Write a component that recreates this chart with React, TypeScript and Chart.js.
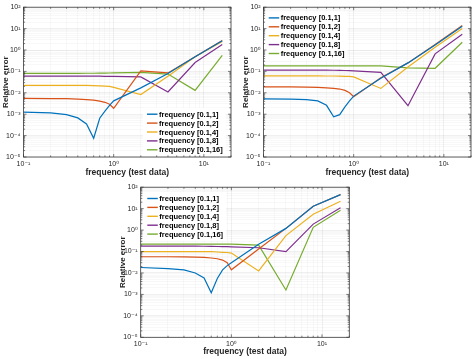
import React, { useEffect, useRef } from 'react';
import { Chart, registerables } from 'chart.js';

Chart.register(...registerables);

// ---------- data ----------
const frequency = [0.1, 0.2, 0.3, 0.4, 0.5, 0.6, 0.7, 0.8, 0.9, 1, 2, 4, 8, 16];
const seriesNames = [
  'frequency [0.1,1]',
  'frequency [0.1,2]',
  'frequency [0.1,4]',
  'frequency [0.1,8]',
  'frequency [0.1,16]',
];
const seriesColors = ['#0072BD', '#D95319', '#EDB120', '#7E2F8E', '#77AC30'];

const xMajorTicks = [0.1, 1, 10];
const yMajorTicks = [1e-5, 1e-4, 1e-3, 1e-2, 1e-1, 1, 10, 100];
const xAxisTitle = 'frequency (test data)';
const yAxisTitle = 'Relative error';

// panel A (top left)
const a_f1 = [1.25e-3, 1.15e-3, 9.5e-4, 6.7e-4, 3.5e-4, 7.5e-5, 6.5e-4, 1.4e-3, 2.6e-3, 4.2e-3, 1.7e-2, 8e-2, 0.48, 2.7];
const a_f2 = [5.5e-3, 5.4e-3, 5.3e-3, 5.1e-3, 4.8e-3, 4.5e-3, 4.1e-3, 3.6e-3, 2.9e-3, 1.9e-3, 0.105, 0.085, 0.48, 2.8];
const a_f4 = [0.022, 0.022, 0.022, 0.022, 0.022, 0.0215, 0.021, 0.0205, 0.02, 0.018, 8.3e-3, 0.06, 0.48, 2.5];
const a_f8 = [0.06, 0.06, 0.06, 0.06, 0.06, 0.06, 0.06, 0.059, 0.059, 0.058, 0.055, 0.011, 0.26, 1.8];
const a_f16 = [0.08, 0.08, 0.081, 0.081, 0.082, 0.082, 0.083, 0.083, 0.084, 0.085, 0.09, 0.075, 0.013, 0.56];

// panel B (top right)
const b_f1 = [5.2e-3, 5.1e-3, 4.8e-3, 4.2e-3, 2.6e-3, 7.5e-4, 9.5e-4, 2.2e-3, 4.2e-3, 7e-3, 0.048, 0.25, 1.7, 13];
const b_f2 = [0.019, 0.019, 0.0185, 0.018, 0.017, 0.016, 0.015, 0.013, 0.01, 6.5e-3, 0.05, 0.25, 1.8, 14];
const b_f4 = [0.062, 0.062, 0.062, 0.062, 0.061, 0.061, 0.06, 0.059, 0.058, 0.055, 0.016, 0.16, 1.35, 10];
const b_f8 = [0.115, 0.115, 0.115, 0.115, 0.114, 0.113, 0.112, 0.11, 0.108, 0.105, 0.09, 2.5e-3, 0.66, 5.5];
const b_f16 = [0.18, 0.18, 0.18, 0.18, 0.18, 0.18, 0.18, 0.18, 0.18, 0.18, 0.18, 0.145, 0.14, 2.3];

// panel C (bottom)
const c_f1 = [0.018, 0.016, 0.014, 0.01, 5.9e-3, 1.2e-3, 5.5e-3, 0.014, 0.022, 0.03, 0.22, 1.2, 13, 45];
const c_f2 = [0.057, 0.057, 0.056, 0.055, 0.053, 0.05, 0.046, 0.04, 0.03, 0.014, 0.13, 1.2, 13, 45];
const c_f4 = [0.1, 0.1, 0.1, 0.1, 0.1, 0.098, 0.095, 0.092, 0.09, 0.085, 0.0125, 0.55, 5.5, 22];
const c_f8 = [0.18, 0.18, 0.18, 0.178, 0.176, 0.174, 0.172, 0.17, 0.168, 0.165, 0.15, 0.098, 1.9, 11];
const c_f16 = [0.22, 0.22, 0.22, 0.22, 0.22, 0.22, 0.22, 0.22, 0.22, 0.22, 0.2, 1.6e-3, 1.35, 8.5];

const panelA = [a_f1, a_f2, a_f4, a_f8, a_f16];
const panelB = [b_f1, b_f2, b_f4, b_f8, b_f16];
const panelC = [c_f1, c_f2, c_f4, c_f8, c_f16];

// ---------- helpers ----------
const FONT = '"Liberation Sans", Arial, "DejaVu Sans", sans-serif';
const SUP: Record<string, string> = {
  '-': '\u207B', '0': '\u2070', '1': '\u00B9', '2': '\u00B2', '3': '\u00B3',
  '4': '\u2074', '5': '\u2075', '6': '\u2076', '7': '\u2077', '8': '\u2078', '9': '\u2079',
};
const isMajor = (v: number, majors: number[]) =>
  majors.some((m) => Math.abs(Math.log10(v) - Math.log10(m)) < 1e-6);
const powLabel = (v: number) => {
  const e = String(Math.round(Math.log10(v)));
  return '10' + e.split('').map((c) => SUP[c]).join('');
};
const allTicks = (majors: number[], max: number) => {
  const out: number[] = [];
  majors.forEach((m) => {
    for (let k = 1; k <= 9; k++) {
      const v = m * k;
      if (v <= max * 1.0000001) out.push(v);
    }
  });
  return out;
};

const matlabPlugin = {
  id: 'matlabLook',
  afterDatasetsDraw(chart: any, _args: any, opts: any) {
    const { ctx, chartArea: a } = chart;
    const xs = chart.scales.x;
    const ys = chart.scales.y;
    ctx.save();
    // legend
    const L = opts.legend;
    const ds = chart.data.datasets;
    ctx.font = 'bold 7.5px ' + FONT;
    const rowH = 8.9;
    const lineLen = 10.5;
    const gap = 1.5;
    const maxW = Math.max(...ds.map((d: any) => ctx.measureText(d.label).width));
    const x0 = a.left + L.x;
    const y0 = a.top + L.y;
    ctx.fillStyle = '#ffffff';
    ctx.fillRect(x0 - 4, y0 - 6.5, lineLen + gap + maxW + 7, rowH * (ds.length - 1) + 13);
    ds.forEach((d: any, i: number) => {
      const y = y0 + i * rowH;
      ctx.strokeStyle = d.borderColor;
      ctx.lineWidth = 1.4;
      ctx.beginPath();
      ctx.moveTo(x0, y);
      ctx.lineTo(x0 + lineLen, y);
      ctx.stroke();
      ctx.fillStyle = '#000000';
      ctx.textBaseline = 'middle';
      ctx.textAlign = 'left';
      ctx.fillText(d.label, x0 + lineLen + gap, y + 0.5);
    });
    // inward ticks
    ctx.strokeStyle = '#262626';
    ctx.lineWidth = 0.6;
    ctx.beginPath();
    xs.ticks.forEach((t: any) => {
      const px = xs.getPixelForValue(t.value);
      if (px < a.left - 0.5 || px > a.right + 0.5) return;
      const len = isMajor(t.value, xMajorTicks) ? 3 : 1.6;
      ctx.moveTo(px, a.bottom);
      ctx.lineTo(px, a.bottom - len);
      ctx.moveTo(px, a.top);
      ctx.lineTo(px, a.top + len);
    });
    ys.ticks.forEach((t: any) => {
      const py = ys.getPixelForValue(t.value);
      if (py < a.top - 0.5 || py > a.bottom + 0.5) return;
      const len = isMajor(t.value, yMajorTicks) ? 3 : 1.6;
      ctx.moveTo(a.left, py);
      ctx.lineTo(a.left + len, py);
      ctx.moveTo(a.right, py);
      ctx.lineTo(a.right - len, py);
    });
    ctx.stroke();
    // box
    ctx.strokeStyle = '#3a3a3a';
    ctx.lineWidth = 0.8;
    ctx.strokeRect(a.left, a.top, a.right - a.left, a.bottom - a.top);
    ctx.restore();
  },
};

type PanelProps = {
  series: number[][];
  left: number;
  top: number;
  width: number;
  height: number;
  plotLeft: number;
  plotTop: number;
  plotRight: number;
  plotBottom: number;
  legendX: number;
  legendY: number;
};

function Panel(p: PanelProps) {
  const ref = useRef<HTMLCanvasElement | null>(null);
  useEffect(() => {
    if (!ref.current) return;
    const chart = new Chart(ref.current, {
      type: 'line',
      data: {
        datasets: p.series.map((vals, i) => ({
          label: seriesNames[i],
          data: frequency.map((f, j) => ({ x: f, y: vals[j] })),
          borderColor: seriesColors[i],
          backgroundColor: seriesColors[i],
          borderWidth: 1.2,
          pointRadius: 0,
          tension: 0,
          fill: false,
        })),
      },
      options: {
        animation: false,
        responsive: false,
        devicePixelRatio: 1,
        layout: {
          padding: { left: 0, top: p.plotTop, right: p.width - p.plotRight, bottom: 0 },
        },
        plugins: {
          legend: { display: false },
          tooltip: { enabled: false },
          matlabLook: { legend: { x: p.legendX, y: p.legendY } },
        } as any,
        scales: {
          x: {
            type: 'logarithmic',
            min: 0.1,
            max: 20,
            afterBuildTicks: (s: any) => {
              s.ticks = allTicks(xMajorTicks, 20).map((v) => ({ value: v }));
            },
            afterFit: (s: any) => {
              s.height = p.height - p.plotBottom;
            },
            ticks: {
              autoSkip: false,
              maxRotation: 0,
              padding: 3,
              color: '#262626',
              font: { family: FONT, size: 7 },
              callback: (v: any) => (isMajor(Number(v), xMajorTicks) ? powLabel(Number(v)) : ''),
            },
            grid: {
              drawTicks: false,
              color: (c: any) =>
                c.tick && isMajor(c.tick.value, xMajorTicks) ? 'rgba(0,0,0,0.08)' : 'rgba(0,0,0,0.04)',
              lineWidth: 0.8,
            },
            border: { display: false },
            title: {
              display: true,
              text: xAxisTitle,
              color: '#262626',
              font: { family: FONT, size: 8.5, weight: 'bold' },
              padding: { top: 0, bottom: 2 },
            },
          },
          y: {
            type: 'logarithmic',
            min: 1e-5,
            max: 100,
            afterBuildTicks: (s: any) => {
              s.ticks = allTicks(yMajorTicks, 100).map((v) => ({ value: v }));
            },
            afterFit: (s: any) => {
              s.width = p.plotLeft;
            },
            ticks: {
              autoSkip: false,
              padding: 3,
              color: '#262626',
              font: { family: FONT, size: 7 },
              callback: (v: any) => (isMajor(Number(v), yMajorTicks) ? powLabel(Number(v)) : ''),
            },
            grid: {
              drawTicks: false,
              color: (c: any) =>
                c.tick && isMajor(c.tick.value, yMajorTicks) ? 'rgba(0,0,0,0.08)' : 'rgba(0,0,0,0.04)',
              lineWidth: 0.8,
            },
            border: { display: false },
            title: {
              display: true,
              text: yAxisTitle,
              color: '#262626',
              font: { family: FONT, size: 8, weight: 'bold' },
              padding: { top: 0.5, bottom: 0 },
            },
          },
        },
      } as any,
      plugins: [matlabPlugin as any],
    });
    return () => chart.destroy();
  }, []);
  return (
    <canvas
      ref={ref}
      width={p.width}
      height={p.height}
      style={{ position: 'absolute', left: p.left, top: p.top, width: p.width, height: p.height }}
    />
  );
}

export default function App() {
  return (
    <div style={{ position: 'absolute', left: 0, top: 0, width: 474, height: 359, background: '#fff' }}>
      <Panel series={panelA} left={0} top={0} width={237} height={180}
        plotLeft={23.5} plotTop={4} plotRight={231} plotBottom={157} legendX={123.5} legendY={107} />
      <Panel series={panelB} left={240} top={0} width={234} height={180}
        plotLeft={23.5} plotTop={4} plotRight={231} plotBottom={157} legendX={5.2} legendY={10.7} />
      <Panel series={panelC} left={117} top={180} width={237} height={179}
        plotLeft={23.7} plotTop={4} plotRight={232.3} plotBottom={157.3} legendX={6.6} legendY={11.3} />
    </div>
  );
}
